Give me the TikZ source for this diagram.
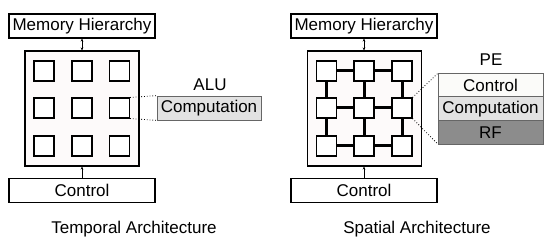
\documentclass[tikz,border=0pt]{standalone}
\usepackage{fontspec}
\setmainfont{Liberation Sans}
\usetikzlibrary{positioning,arrows.meta}
\definecolor{arrfill}{RGB}{253,250,250}
\definecolor{pefill}{RGB}{251,251,249}
\definecolor{compfill}{RGB}{226,226,226}
\definecolor{rffill}{RGB}{140,140,140}

\begin{document}
\begin{tikzpicture}[
  x=1pt, y=-1pt, >={Stealth[length=3pt,width=2.6pt]},
  every node/.append style={font=\fontsize{17}{20}\selectfont},
  blk/.style={rectangle, draw=black, line width=1.1pt, fill=white,
              minimum width=146pt, minimum height=24pt, inner sep=0pt},
  arr/.style={rectangle, draw=black, line width=1.1pt, fill=arrfill,
              minimum width=114pt, minimum height=115pt, inner sep=0pt},
  cell/.style={rectangle, draw=black, line width=1.1pt, fill=white,
               minimum size=20pt, inner sep=0pt},
  mesh/.style={line width=3pt},
  zoomline/.style={dotted, line width=0.8pt},
  layer/.style={rectangle, draw=black!60, line width=0.8pt, outer sep=0pt,
                minimum width=105pt, minimum height=23.7pt, inner sep=0pt}
]
\useasboundingbox (0,0) rectangle (550,246);

% temporal architecture
\node[blk] (memT) at (82,26) {Memory Hierarchy};
\node[arr] (arrT) at (82,108.5) {};
\node[blk] (ctlT) at (82,190.5) {Control};
\foreach \r/\y in {1/71,2/108,3/146}
  \foreach \c/\x in {1/44,2/82,3/119.5}
    \node[cell] (t-\r-\c) at (\x,\y) {};
\node (alu) at (210,85) {ALU};
\node[rectangle, draw=black!60, line width=0.8pt, fill=compfill,
      minimum width=104pt, minimum height=24pt, inner sep=0pt]
  (compT) at (209,108) {Computation};
\draw[<->, line width=0.8pt] (memT) -- (arrT);
\draw[->, line width=0.8pt] (ctlT) -- (arrT);
\draw[zoomline] (t-2-3.north east) -- (compT.north west);
\draw[zoomline] (t-2-3.south east) -- (compT.south west);
\node at (134,229) {Temporal Architecture};

% spatial architecture
\node[blk] (memS) at (364,26) {Memory Hierarchy};
\node[arr] (arrS) at (364.5,108.5) {};
\node[blk] (ctlS) at (364,190.5) {Control};
\foreach \r/\y in {1/71,2/108,3/146}
  \foreach \c/\x in {1/326.5,2/364,3/402}
    \node[cell] (s-\r-\c) at (\x,\y) {};
\foreach \r in {1,2,3} {
  \draw[mesh] (s-\r-1) -- (s-\r-2);
  \draw[mesh] (s-\r-2) -- (s-\r-3);
  \draw[mesh] (s-1-\r) -- (s-2-\r);
  \draw[mesh] (s-2-\r) -- (s-3-\r);
}
\node (pe) at (491,60) {PE};
\node[layer, fill=pefill] (peCtl) at (490.5,85) {Control};
\node[layer, fill=compfill, below=0pt of peCtl] (peComp) {Computation};
\node[layer, fill=rffill, below=0pt of peComp] (peRF) {RF};
\draw[<->, line width=0.8pt] (memS) -- (memS |- arrS.north);
\draw[->, line width=0.8pt] (ctlS) -- (ctlS |- arrS.south);
\draw[zoomline] (s-2-3.north east) -- (peCtl.north west);
\draw[zoomline] (s-2-3.south east) -- (peRF.south west);
\node at (417,229) {Spatial Architecture};

\end{tikzpicture}
\end{document}
